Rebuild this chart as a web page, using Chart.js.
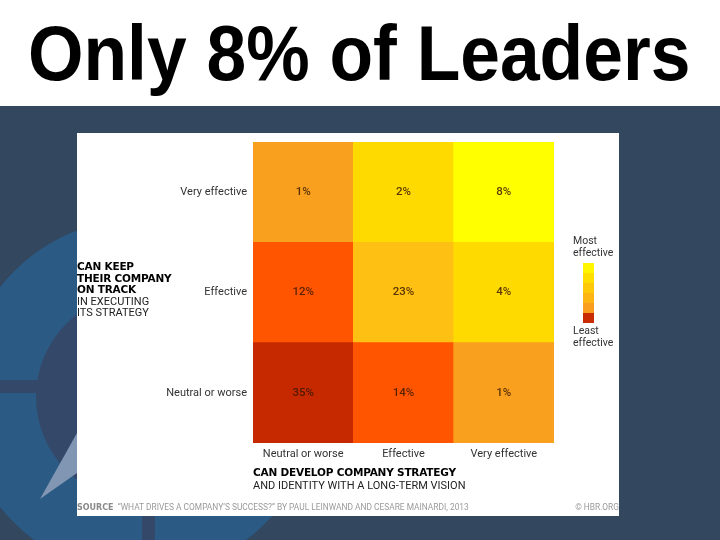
<!DOCTYPE html>
<html>
<head>
<meta charset="utf-8">
<script src="https://cdn.jsdelivr.net/npm/chart.js@4.4.0/dist/chart.umd.min.js"></script>
<style>
  html, body { margin: 0; padding: 0; }
  body { width: 720px; height: 540px; position: relative; overflow: hidden; background: #fff; font-family: Roboto, "Noto Sans", sans-serif; }
  #title { position: absolute; left: 28px; top: 8px; margin: 0; font: bold 78px "Liberation Sans", Arial, sans-serif; color: #000; white-space: nowrap; transform: scaleX(0.915); transform-origin: left top; }
  #bg { position: absolute; left: 0; top: 106px; width: 720px; height: 434px; background: #33475f; overflow: hidden; }
  .abs { position: absolute; }
  #ring { left: -38px; top: 113px; width: 356px; height: 356px; border-radius: 50%; background: #2b5a84; }
  #inner { left: 36px; top: 187px; width: 208px; height: 208px; border-radius: 50%; background: #34496a; }
  #hband { left: 0; top: 274px; width: 60px; height: 13px; background: #34496a; }
  #vband { left: 142px; top: 390px; width: 13px; height: 50px; background: #34496a; }
  #needle { left: 30px; top: 300px; width: 60px; height: 100px; background: #8096b3; clip-path: polygon(10px 93px, 47px 27px, 60px 10px, 60px 55px, 47px 67px); }
  #panel { position: absolute; left: 77px; top: 133px; width: 542px; height: 383px; background: #fff; }
  #chart { position: absolute; left: 0; top: 0; }
  .hdr { font-family: "DejaVu Sans", sans-serif; font-weight: bold; font-size: 10.5px; color: #000; line-height: 11.6px; letter-spacing: -0.2px; }
  .sub { font-family: Roboto, sans-serif; font-size: 11px; color: #222; line-height: 11.6px; }
  #ytitle { left: 0; top: 128px; }
  #xtitle { left: 176px; top: 333px; }
  #xtitle .hdr, #xtitle .sub { line-height: 13px; }
  #source { left: 0; top: 369px; font-size: 8.4px; color: #9a9a9a; white-space: nowrap; font-family: Roboto, sans-serif; }
  #source b { color: #8a8a8a; font-family: "DejaVu Sans", sans-serif; font-size: 8px; }
  #hbr { right: 0; top: 369px; font-size: 8.4px; color: #9a9a9a; font-family: Roboto, sans-serif; }
  .lg { font-family: Roboto, sans-serif; font-size: 10.5px; color: #333; line-height: 12px; }
  #lgTop { left: 496px; top: 102px; }
  #lgBot { left: 496px; top: 192px; }
  #lgBar { left: 506px; top: 130px; width: 11px; }
  #lgBar div { height: 10px; }
</style>
</head>
<body>
<div id="title">Only 8% of Leaders</div>
<div id="bg">
  <div class="abs" id="ring"></div>
  <div class="abs" id="inner"></div>
  <div class="abs" id="hband"></div>
  <div class="abs" id="vband"></div>
  <div class="abs" id="needle"></div>
</div>
<div id="panel">
  <canvas id="chart" width="542" height="383"></canvas>
  <div class="abs" id="ytitle">
    <div class="hdr">CAN KEEP</div>
    <div class="hdr">THEIR COMPANY</div>
    <div class="hdr">ON TRACK</div>
    <div class="sub">IN EXECUTING</div>
    <div class="sub">ITS STRATEGY</div>
  </div>
  <div class="abs" id="xtitle">
    <div class="hdr">CAN DEVELOP COMPANY STRATEGY</div>
    <div class="sub">AND IDENTITY WITH A LONG-TERM VISION</div>
  </div>
  <div class="abs" id="source"><b>SOURCE</b>&nbsp; “WHAT DRIVES A COMPANY’S SUCCESS?” BY PAUL LEINWAND AND CESARE MAINARDI, 2013</div>
  <div class="abs" id="hbr">© HBR.ORG</div>
  <div class="abs lg" id="lgTop">Most<br>effective</div>
  <div class="abs" id="lgBar"></div>
  <div class="abs lg" id="lgBot">Least<br>effective</div>
</div>

<script>
// columns: can develop strategy; rows: can execute strategy (bottom to top)
const columns = ['Neutral or worse', 'Effective', 'Very effective'];
const rows = ['Neutral or worse', 'Effective', 'Very effective'];

// share of leaders (%) per row, one value per column
const neutralRow = [35, 14, 1];
const effectiveRow = [12, 23, 4];
const veryEffectiveRow = [1, 2, 8];
const shares = [neutralRow, effectiveRow, veryEffectiveRow];

// colour step of each cell, 0 = least effective, 5 = most effective
const neutralLevels = [0, 1, 2];
const effectiveLevels = [1, 3, 4];
const veryEffectiveLevels = [2, 4, 5];
const levels = [neutralLevels, effectiveLevels, veryEffectiveLevels];

const palette = ['#C62800', '#FF5500', '#F9A11F', '#FEC012', '#FFDA00', '#FFFF00'];
const legendColors = ['#FFF600', '#FFDE00', '#FFC90B', '#FDB516', '#F99E1E', '#C92B03'];

const lgBar = document.getElementById('lgBar');
legendColors.forEach(c => {
    const d = document.createElement('div');
    d.style.background = c;
    lgBar.appendChild(d);
});

const cellLabels = {
    id: 'cellLabels',
    afterDatasetsDraw(chart) {
        const ctx = chart.ctx;
        ctx.save();
        ctx.font = '500 11.5px Roboto, sans-serif';
        ctx.fillStyle = 'rgba(60,25,0,0.85)';
        ctx.textAlign = 'center';
        ctx.textBaseline = 'middle';
        chart.data.datasets.forEach((ds, i) => {
            chart.getDatasetMeta(i).data.forEach((bar, j) => {
                const p = bar.getCenterPoint();
                ctx.fillText(shares[i][j] + '%', p.x, p.y);
            });
        });
        ctx.restore();
    }
};

const datasets = rows.map((r, i) => ({
    label: r,
    data: columns.map(() => 1),
    backgroundColor: levels[i].map(l => palette[l]),
    borderWidth: 0,
    barPercentage: 1,
    categoryPercentage: 1
}));

new Chart(document.getElementById('chart'), {
    type: 'bar',
    data: { labels: columns, datasets: datasets },
    plugins: [cellLabels],
    options: {
        responsive: false,
        animation: false,
        layout: { padding: { left: 0, right: 65, top: 9, bottom: 0 } },
        plugins: { legend: { display: false }, tooltip: { enabled: false } },
        scales: {
            x: {
                stacked: true,
                grid: { display: false, drawTicks: false },
                border: { display: false },
                ticks: { color: '#333', font: { family: 'Roboto', size: 11 }, padding: 5 },
                afterFit(scale) { scale.height = 73; scale.paddingLeft = 0; scale.paddingRight = 0; }
            },
            y: {
                stacked: true,
                min: 0,
                max: rows.length,
                grid: { display: false, drawTicks: false },
                border: { display: false },
                afterBuildTicks(scale) {
                    scale.ticks = rows.map((r, i) => ({ value: i + 0.5 }));
                },
                ticks: {
                    color: '#333',
                    font: { family: 'Roboto', size: 11 },
                    padding: 6,
                    callback: (v) => rows[Math.floor(v)]
                },
                afterFit(scale) { scale.width = 176; scale.paddingTop = 0; scale.paddingBottom = 0; }
            }
        }
    }
});
</script>
</body>
</html>
